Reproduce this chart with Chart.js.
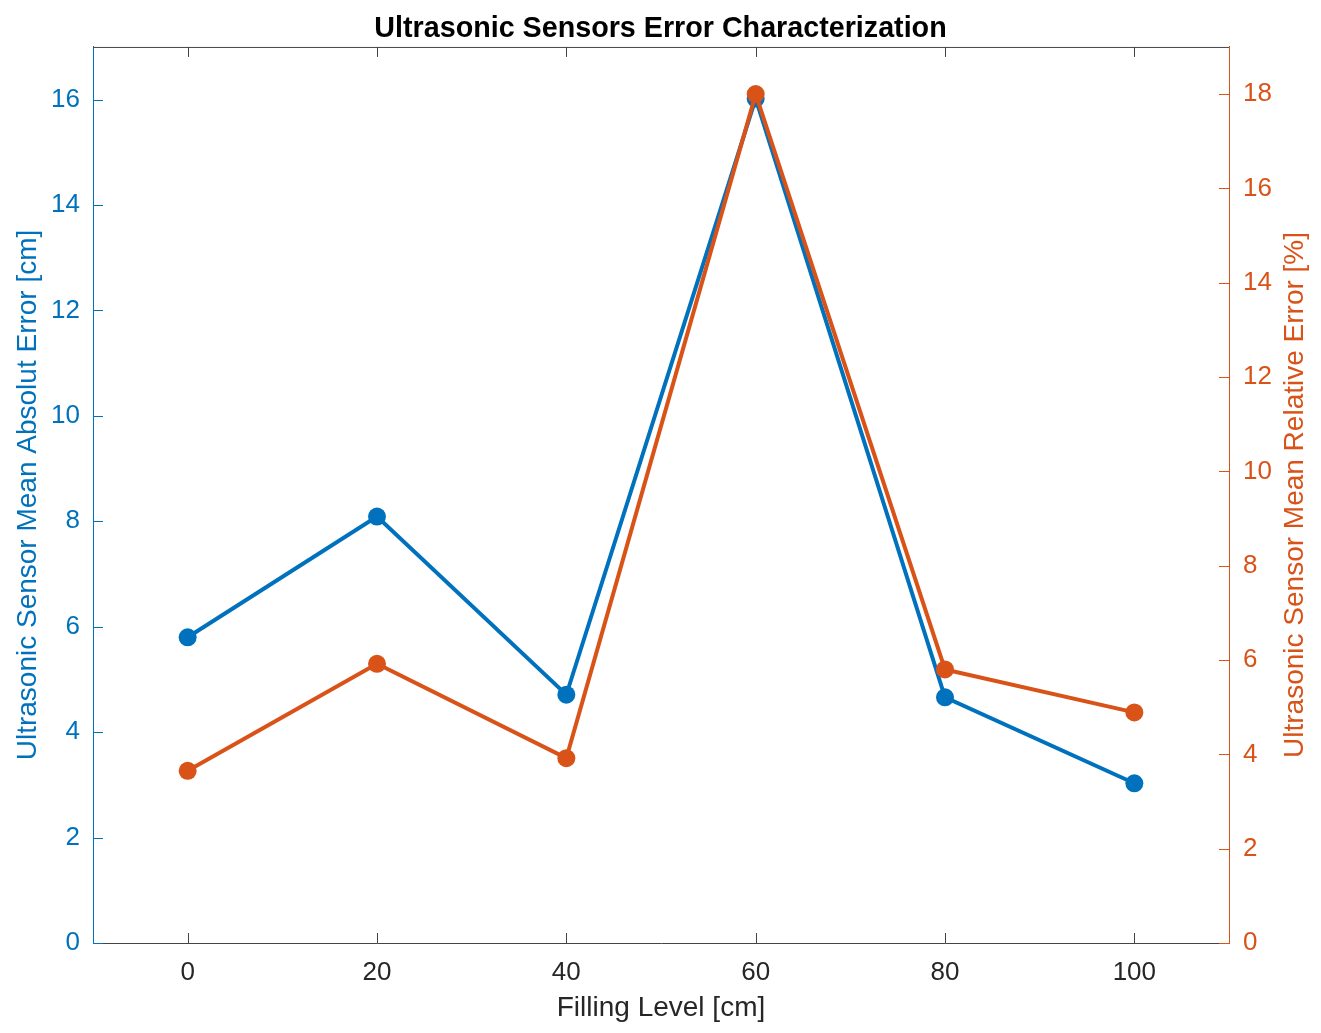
<!DOCTYPE html>
<html>
<head>
<meta charset="utf-8">
<script src="https://cdn.jsdelivr.net/npm/chart.js@4/dist/chart.umd.min.js"></script>
<style>
  html, body { margin: 0; padding: 0; background: #fff; }
  #wrap { width: 1321px; height: 1033px; }
</style>
</head>
<body>
<div id="wrap"><canvas id="sensor-chart"></canvas></div>
<script>
// values
const fillLevels = [0, 20, 40, 60, 80, 100];
const meanAbsError = [5.80, 8.09, 4.71, 16.02, 4.66, 3.03];
const meanRelError = [3.65, 5.92, 3.92, 18.0, 5.80, 4.89];

const xTicks = [0, 20, 40, 60, 80, 100];
const leftTicks = [0, 2, 4, 6, 8, 10, 12, 14, 16];
const rightTicks = [0, 2, 4, 6, 8, 10, 12, 14, 16, 18];

const rightTitle = 'Ultrasonic Sensor Mean Relative Error [%]';

const BLUE = '#0072BD';
const ORANGE = '#D95319';
const FONT = '"Liberation Sans", Arial, sans-serif';

const toPoints = ys => fillLevels.map((x, i) => ({x: x, y: ys[i]}));
const fixTicks = arr => scale => { scale.ticks = arr.map(v => ({value: v})); };

// matlab style inward tick marks, top box line and a right title read bottom-up
const inwardTicks = {
    id: 'inwardTicks',
    afterDraw(chart) {
        const ctx = chart.ctx;
        const a = chart.chartArea;
        const len = 10;
        ctx.save();
        ctx.lineWidth = 1;
        ctx.strokeStyle = '#444';
        ctx.beginPath();
        ctx.moveTo(a.left, a.top + 0.5);
        ctx.lineTo(a.right, a.top + 0.5);
        ctx.stroke();

        const xs = chart.scales.x;
        ctx.beginPath();
        xTicks.forEach(v => {
            const px = Math.round(xs.getPixelForValue(v)) + 0.5;
            ctx.moveTo(px, a.bottom);
            ctx.lineTo(px, a.bottom - len);
            ctx.moveTo(px, a.top);
            ctx.lineTo(px, a.top + len);
        });
        ctx.stroke();

        const yl = chart.scales.y;
        ctx.strokeStyle = BLUE;
        ctx.beginPath();
        leftTicks.forEach(v => {
            const py = Math.round(yl.getPixelForValue(v)) + 0.5;
            ctx.moveTo(a.left, py);
            ctx.lineTo(a.left + len, py);
        });
        ctx.stroke();

        const yr = chart.scales.y1;
        ctx.strokeStyle = ORANGE;
        ctx.beginPath();
        rightTicks.forEach(v => {
            const py = Math.round(yr.getPixelForValue(v)) + 0.5;
            ctx.moveTo(a.right, py);
            ctx.lineTo(a.right - len, py);
        });
        ctx.stroke();

        ctx.translate(1295, (a.top + a.bottom) / 2);
        ctx.rotate(-Math.PI / 2);
        ctx.fillStyle = ORANGE;
        ctx.font = '28px ' + FONT;
        ctx.textAlign = 'center';
        ctx.textBaseline = 'middle';
        ctx.fillText(rightTitle, 0, 0);
        ctx.restore();
    }
};

const ctx = document.getElementById('sensor-chart');
const chart = new Chart(ctx, {
    type: 'line',
    data: {
        datasets: [
            {
                label: 'Mean Absolut Error',
                data: toPoints(meanAbsError),
                yAxisID: 'y',
                borderColor: BLUE,
                backgroundColor: BLUE,
                borderWidth: 4,
                pointRadius: 9,
                pointBorderWidth: 0,
                pointHoverRadius: 9,
                order: 2
            },
            {
                label: 'Mean Relative Error',
                data: toPoints(meanRelError),
                yAxisID: 'y1',
                borderColor: ORANGE,
                backgroundColor: ORANGE,
                borderWidth: 4,
                pointRadius: 9,
                pointBorderWidth: 0,
                pointHoverRadius: 9,
                order: 1
            }
        ]
    },
    options: {
        responsive: true,
        maintainAspectRatio: false,
        animation: false,
        layout: { padding: 0 },
        plugins: {
            legend: { display: false },
            tooltip: { enabled: false },
            title: {
                display: true,
                text: 'Ultrasonic Sensors Error Characterization',
                color: '#000',
                font: { family: FONT, size: 28.7, weight: 'bold', lineHeight: 1.2 },
                padding: { top: 12, bottom: 0.5 }
            }
        },
        scales: {
            x: {
                type: 'linear',
                min: -10,
                max: 110,
                afterBuildTicks: fixTicks(xTicks),
                afterFit: s => { s.height = 90; },
                grid: { drawOnChartArea: false, drawTicks: false },
                border: { color: '#444', width: 1 },
                ticks: { color: '#262626', padding: 14, font: { family: FONT, size: 26 } },
                title: {
                    display: true,
                    text: 'Filling Level [cm]',
                    color: '#262626',
                    font: { family: FONT, size: 28, lineHeight: 1.2 },
                    padding: { top: 0, bottom: 8 }
                }
            },
            y: {
                type: 'linear',
                position: 'left',
                min: 0,
                max: 17,
                afterBuildTicks: fixTicks(leftTicks),
                afterFit: s => { s.width = 93; },
                grid: { drawOnChartArea: false, drawTicks: false },
                border: { color: BLUE, width: 1 },
                ticks: { color: BLUE, padding: 13, font: { family: FONT, size: 26 } },
                title: {
                    display: true,
                    text: 'Ultrasonic Sensor Mean Absolut Error [cm]',
                    color: BLUE,
                    font: { family: FONT, size: 28, lineHeight: 1.2 },
                    padding: { top: 11, bottom: 0 }
                }
            },
            y1: {
                type: 'linear',
                position: 'right',
                min: 0,
                max: 19,
                afterBuildTicks: fixTicks(rightTicks),
                afterFit: s => { s.width = 92; },
                grid: { drawOnChartArea: false, drawTicks: false },
                border: { color: ORANGE, width: 1 },
                ticks: { color: ORANGE, padding: 14, font: { family: FONT, size: 26 } },
                title: { display: false }
            }
        }
    },
    plugins: [inwardTicks]
});
</script>
</body>
</html>
